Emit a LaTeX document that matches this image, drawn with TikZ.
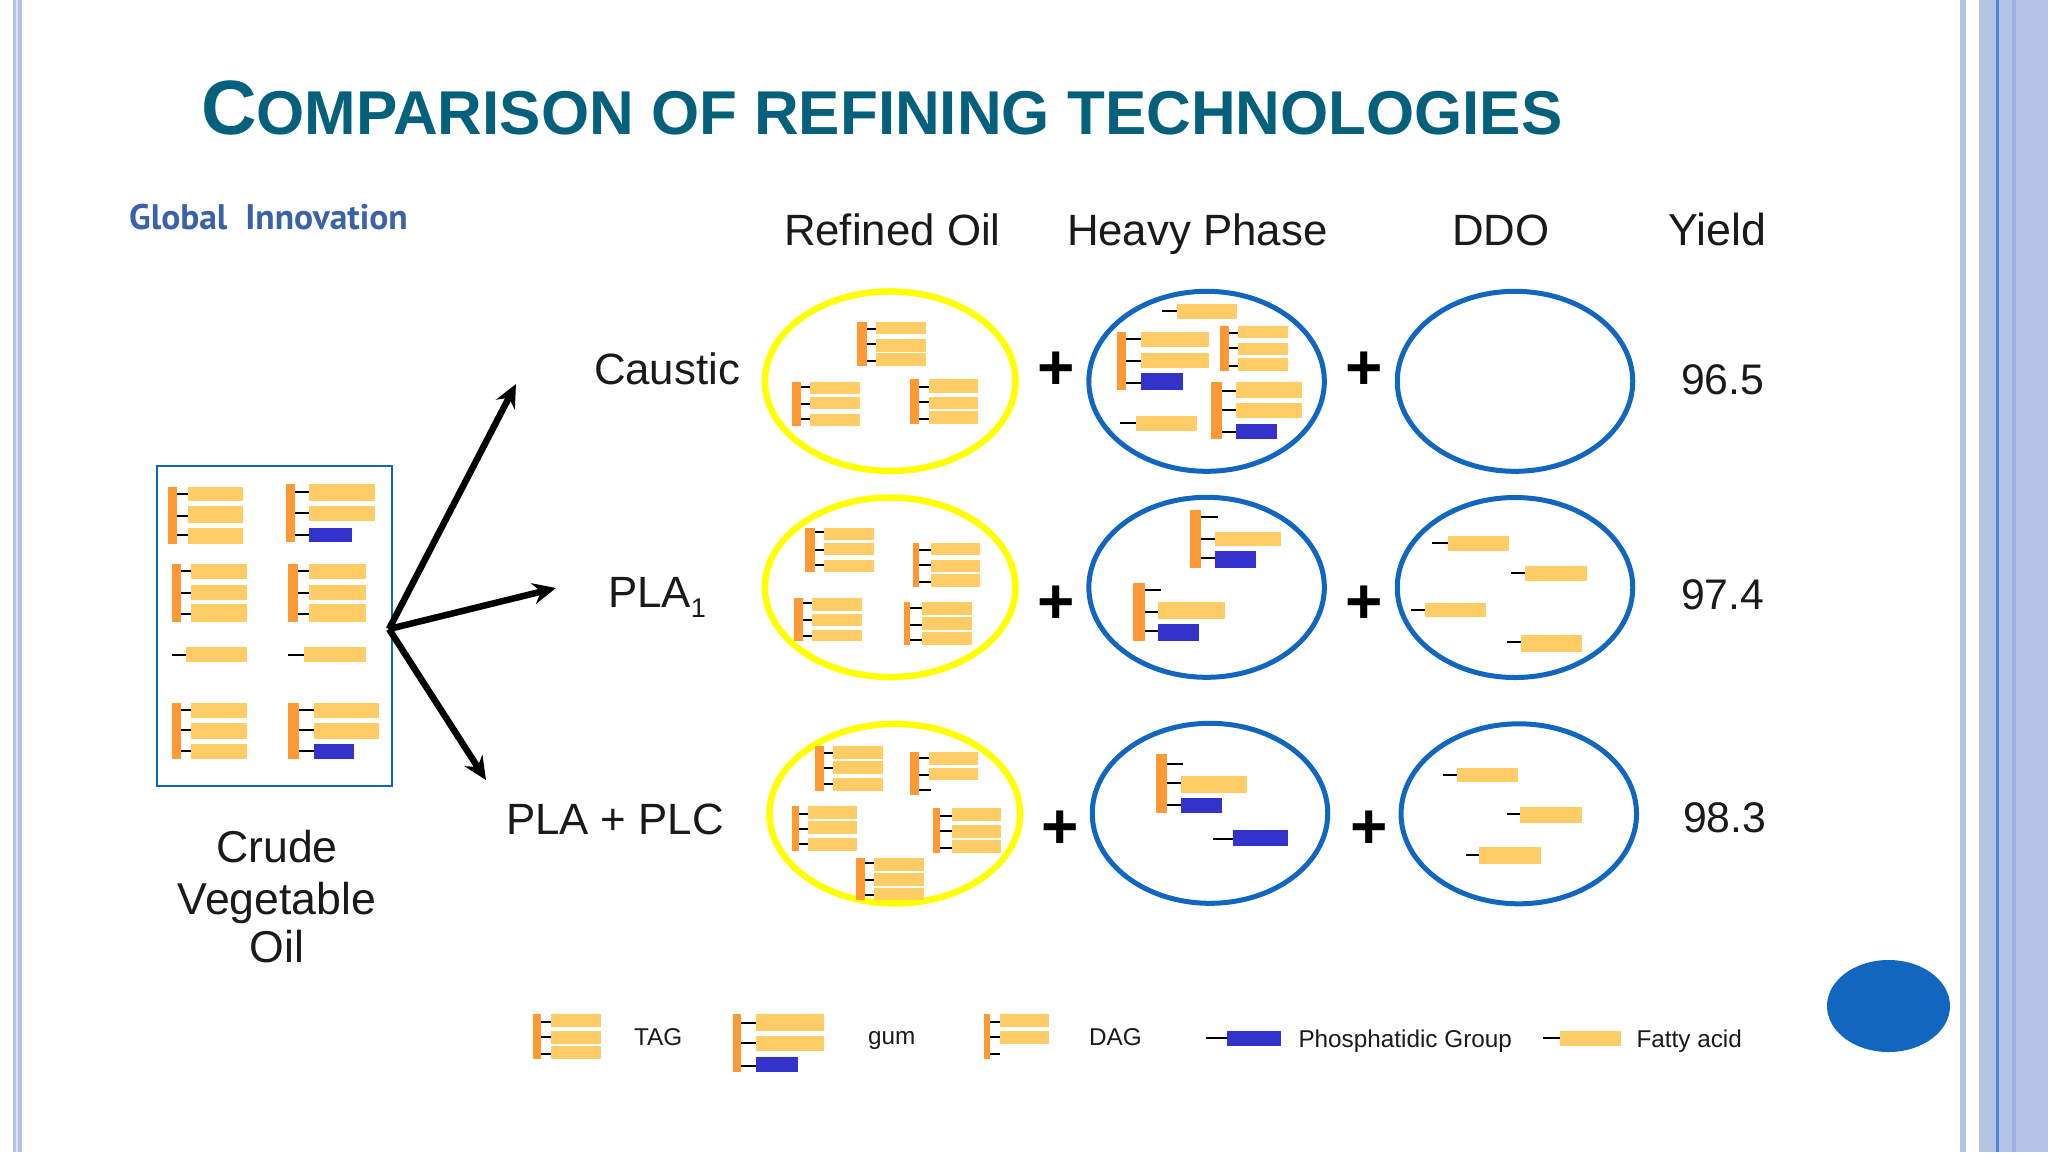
\documentclass[tikz,border=0pt]{standalone}
\usepackage{fontspec}
\setmainfont{Liberation Sans}
\newfontfamily\gifont{PT Sans}
\usetikzlibrary{arrows.meta,shapes.geometric}
\definecolor{barc}{HTML}{FF9933}
\definecolor{fac}{HTML}{FFCC66}
\definecolor{pgc}{HTML}{3333CC}
\definecolor{ringb}{HTML}{1166BF}
\definecolor{ringy}{HTML}{FFFF00}
\definecolor{titlec}{HTML}{05607C}
\definecolor{stripc}{HTML}{B4C3E4}
\definecolor{stripd}{HTML}{4A86D8}
\definecolor{stripe}{HTML}{9DB3DE}
\definecolor{inkc}{HTML}{1A1A1A}
\definecolor{gic}{HTML}{3B62A8}
\tikzset{
  txt/.style={inner sep=0pt,outer sep=0pt,anchor=base west,text=inkc,font=\fontsize{43.8}{50}\selectfont},
  txtc/.style={txt,anchor=base,font=\fontsize{44.6}{50}\selectfont},
  num/.style={txt,font=\fontsize{42.8}{50}\selectfont},
  lgd/.style={txt,font=\fontsize{24.3}{28}\selectfont},
  plusn/.style={inner sep=0pt,outer sep=0pt,text=black,font=\fontsize{64}{70}\selectfont\bfseries},
  yring/.style={draw=ringy,line width=6.5pt,shape=ellipse,inner sep=0pt,minimum width=250.6pt,minimum height=179.5pt},
  bring/.style={draw=ringb,line width=5pt,shape=ellipse,inner sep=0pt,minimum width=235.5pt,minimum height=180pt},
  tickl/.style={draw=black,line width=2pt},
  bigarrow/.style={draw=black,line width=6.5pt,-{Stealth[length=23pt,width=21pt]}},
  zoomA/.style={shift={(0,440)},x=0.35714pt,y=-0.33333pt},
  zoomB/.style={shift={(740,270)},x=0.39541pt,y=-0.33333pt},
  zoomC/.style={shift={(740,700)},x=0.39541pt,y=-0.33333pt},
  zoomD/.style={shift={(1340,270)},x=0.33333pt,y=-0.4146pt},
  zoomE/.style={shift={(500,980)},x=0.82908pt,y=-0.33333pt},
}
\newcommand\fa[4]{\fill[fac] (#1,#3) rectangle (#2,#4);}
\newcommand\pg[4]{\fill[pgc] (#1,#3) rectangle (#2,#4);}
\newcommand\tk[3]{\draw[tickl] (#1,#3) -- (#2,#3);}
% bar x0,x1,y0,y1; tick end x; three tick heights
\newcommand\mol[8]{\fill[barc] (#1,#3) rectangle (#2,#4);
  \tk{#2}{#5}{#6}\tk{#2}{#5}{#7}\tk{#2}{#5}{#8}}
\begin{document}
\begin{tikzpicture}[x=1pt,y=-1pt]
\useasboundingbox (0,0) rectangle (2048,1152);
\fill[white] (0,0) rectangle (2048,1152);
% slide edges
\fill[stripc] (12.5,0) rectangle (22,1152);
\fill[stripc!45!white] (16,0) rectangle (17.5,1152);
\fill[stripc] (1960,0) rectangle (1966,1152);
\fill[stripc] (1979,0) rectangle (2048,1152);
\fill[stripd] (1996,0) rectangle (1998.5,1152);
\fill[stripe] (2012,0) rectangle (2016,1152);
% title
\node (title) [inner sep=0pt,anchor=base west,text=titlec,font=\bfseries] at (201,134)
  {\fontsize{77}{80}\selectfont C\fontsize{61.9}{80}\selectfont OMPARISON OF REFINING TECHNOLOGIES};
\node (gi) [inner sep=0pt,anchor=base west,text=gic,font=\fontsize{35.5}{40}\selectfont\gifont\bfseries] at (129,229) {Global\ \ Innovation};
% column heads
\node (h1) [txt] at (784,245) {Refined Oil};
\node (h2) [txt] at (1067,245) {Heavy Phase};
\node (h3) [txt] at (1452,245) {DDO};
\node (h4) [txt,font=\fontsize{44.8}{50}\selectfont] at (1668,245) {Yield};
% row labels
\node (r1) [txt] at (594,384) {Caustic};
\node (r2) [txt] at (608,607) {PLA\raisebox{-10pt}{\fontsize{27}{30}\selectfont 1}};
\node (r3) [txt] at (506,834) {PLA + PLC};
\node (c1) [txtc] at (277,862) {Crude};
\node (c2) [txtc] at (277,914) {Vegetable};
\node (c3) [txtc] at (277,962) {Oil};
% yields
\node (y1) [num] at (1681,394) {96.5};
\node (y2) [num] at (1681,609) {97.4};
\node (y3) [num] at (1683,832) {98.3};
% rings
\node (ya) [yring] at (890.2,381.2) {};
\node (yb) [yring] at (890.2,587.3) {};
\node (yc) [yring] at (894.8,813.7) {};
\node (ba) [bring] at (1206.6,381.3) {};
\node (bb) [bring] at (1206.6,587.3) {};
\node (bc) [bring] at (1210,813.3) {};
\node (da) [bring] at (1515,381.3) {};
\node (db) [bring] at (1515,587.5) {};
\node (dc) [bring] at (1518.8,813.8) {};
% plus signs
\node (p1) [plusn] at (1056.3,371) {+};
\node (p2) [plusn] at (1056.3,604.5) {+};
\node (p3) [plusn] at (1060.5,829.5) {+};
\node (p4) [plusn] at (1364.3,371) {+};
\node (p5) [plusn] at (1364.3,604.5) {+};
\node (p6) [plusn] at (1369,829.5) {+};
% crude oil box
\node (crude) [draw=ringb,line width=2pt,inner sep=0pt,minimum width=235pt,minimum height=320pt] at (274.5,626) {};
\begin{scope}[zoomA]
\mol{469}{496}{140}{313}{526}{162}{227}{285}\fa{526}{680}{140}{184}\fa{526}{680}{198}{248}\fa{526}{680}{263}{313}
\mol{801}{827}{132}{307}{864}{155}{219}{285}\fa{864}{1050}{132}{184}\fa{864}{1050}{198}{242}\pg{864}{986}{263}{307}
\mol{482}{508}{371}{545}{534}{394}{458}{522}\fa{534}{692}{371}{416}\fa{534}{692}{436}{481}\fa{534}{692}{493}{545}
\mol{806}{833}{371}{545}{864}{394}{458}{522}\fa{864}{1025}{371}{416}\fa{864}{1025}{436}{481}\fa{864}{1025}{493}{545}
\tk{482}{521}{645}\fa{521}{692}{621}{666}
\tk{806}{852}{645}\fa{852}{1025}{621}{666}
\mol{482}{508}{789}{957}{534}{811}{869}{934}\fa{534}{692}{789}{834}\fa{534}{692}{848}{898}\fa{534}{692}{912}{957}
\mol{806}{838}{789}{957}{878}{811}{869}{934}\fa{878}{1062}{789}{834}\fa{878}{1062}{848}{898}\pg{878}{992}{912}{957}
\end{scope}
% arrows
\coordinate (hub) at (389,629);
\coordinate (t1) at (516,384);
\coordinate (t2) at (556,588);
\coordinate (t3) at (486,780);
\draw[bigarrow] (hub) -- (t1);
\draw[bigarrow] (hub) -- (t2);
\draw[bigarrow] (hub) -- (t3);
% rows 1 and 2: refined oil and heavy phase
\begin{scope}[zoomB]
\mol{297}{321}{155}{289}{344}{177}{222}{272}\fa{344}{470}{155}{192}\fa{344}{470}{206}{245}\fa{344}{470}{250}{289}
\mol{132}{154}{335}{468}{177}{350}{401}{446}\fa{177}{303}{335}{373}\fa{177}{303}{380}{418}\fa{177}{303}{432}{468}
\mol{430}{453}{328}{463}{477}{350}{396}{446}\fa{477}{602}{328}{368}\fa{477}{602}{380}{418}\fa{477}{602}{424}{463}
\tk{1066}{1105}{124}\fa{1105}{1258}{102}{147}
\mol{954}{977}{186}{359}{1013}{208}{272}{338}\fa{1013}{1185}{186}{231}\fa{1013}{1185}{250}{295}\pg{1013}{1121}{309}{359}
\mol{1214}{1237}{167}{302}{1259}{189}{234}{287}\fa{1259}{1387}{167}{205}\fa{1259}{1387}{220}{256}\fa{1259}{1387}{264}{302}
\mol{1191}{1219}{335}{507}{1254}{362}{421}{486}\fa{1254}{1421}{335}{384}\fa{1254}{1421}{399}{443}\pg{1254}{1358}{463}{507}
\tk{961}{1002}{460}\fa{1002}{1156}{437}{482}
\mol{165}{189}{773}{907}{212}{787}{839}{885}\fa{212}{338}{773}{810}\fa{212}{338}{818}{856}\fa{212}{338}{869}{907}
\mol{437}{453}{818}{952}{482}{839}{885}{936}\fa{482}{608}{818}{855}\fa{482}{608}{869}{907}\fa{482}{608}{913}{952}
\mol{137}{160}{984}{1112}{183}{999}{1051}{1098}\fa{183}{309}{984}{1024}\fa{183}{309}{1031}{1067}\fa{183}{309}{1081}{1112}
\mol{414}{430}{997}{1125}{459}{1013}{1064}{1109}\fa{459}{586}{997}{1035}\fa{459}{586}{1042}{1080}\fa{459}{586}{1087}{1125}
\mol{1139}{1167}{720}{893}{1201}{742}{806}{865}\tk{1167}{1208}{742}\fa{1201}{1369}{785}{829}\pg{1201}{1306}{843}{893}
\mol{995}{1024}{939}{1112}{1058}{961}{1025}{1083}\tk{1024}{1065}{961}\fa{1058}{1226}{997}{1047}\pg{1058}{1161}{1062}{1112}
\end{scope}
% row 3
\begin{scope}[zoomC]
\mol{190}{212}{138}{272}{235}{160}{205}{251}\fa{235}{362}{138}{177}\fa{235}{362}{183}{221}\fa{235}{362}{235}{272}
\mol{430}{453}{157}{286}{477}{173}{224}{269}\tk{453}{482}{269}\fa{477}{602}{157}{196}\fa{477}{602}{203}{241}
\mol{132}{149}{319}{453}{172}{341}{386}{431}\fa{172}{297}{319}{357}\fa{172}{297}{364}{402}\fa{172}{297}{414}{453}
\mol{488}{505}{325}{459}{535}{347}{392}{443}\fa{535}{660}{325}{363}\fa{535}{660}{376}{414}\fa{535}{660}{421}{459}
\mol{293}{315}{473}{601}{338}{488}{540}{585}\fa{338}{466}{473}{512}\fa{338}{466}{518}{557}\fa{338}{466}{563}{601}
\mol{1053}{1081}{163}{338}{1116}{192}{250}{315}\tk{1081}{1121}{192}\fa{1116}{1282}{228}{279}\pg{1116}{1219}{293}{338}
\tk{1197}{1248}{417}\pg{1248}{1386}{390}{439}
\end{scope}
% DDO fatty acids
\begin{scope}[zoomD]
\tk{275}{323}{659}\fa{323}{508}{641}{678}
\tk{514}{556}{732}\fa{556}{740}{714}{749}
\tk{214}{255}{820}\fa{255}{439}{802}{837}
\tk{501}{542}{897}\fa{542}{726}{880}{921}
\tk{310}{351}{1218}\fa{351}{535}{1200}{1236}
\tk{501}{541}{1311}\fa{541}{726}{1294}{1334}
\tk{378}{418}{1410}\fa{418}{604}{1392}{1433}
\end{scope}
% legend
\begin{scope}[zoomE]
\mol{40}{49}{102}{237}{62}{125}{170}{221}\fa{62}{122}{102}{141}\fa{62}{122}{154}{192}\fa{62}{122}{198}{237}
\mol{281}{291}{102}{276}{309}{130}{189}{257}\fa{309}{391}{102}{153}\fa{309}{391}{167}{212}\pg{309}{360}{231}{276}
\mol{584}{591}{102}{237}{603}{125}{170}{221}\fa{603}{662}{102}{141}\fa{603}{662}{154}{192}
\tk{852}{877}{175}\pg{877}{942}{154}{198}
\tk{1258}{1278}{175}\fa{1278}{1352}{154}{198}
\end{scope}
\node (l1) [lgd] at (634,1045) {TAG};
\node (l2) [lgd] at (868,1044) {gum};
\node (l3) [lgd] at (1089,1045) {DAG};
\node (l4) [lgd] at (1298.5,1047) {Phosphatidic Group};
\node (l5) [lgd] at (1636.5,1047) {Fatty acid};
% blue dot
\node (dot) [fill=ringb,shape=ellipse,inner sep=0pt,minimum width=123pt,minimum height=92pt] at (1888.5,1006) {};
\end{tikzpicture}
\end{document}
